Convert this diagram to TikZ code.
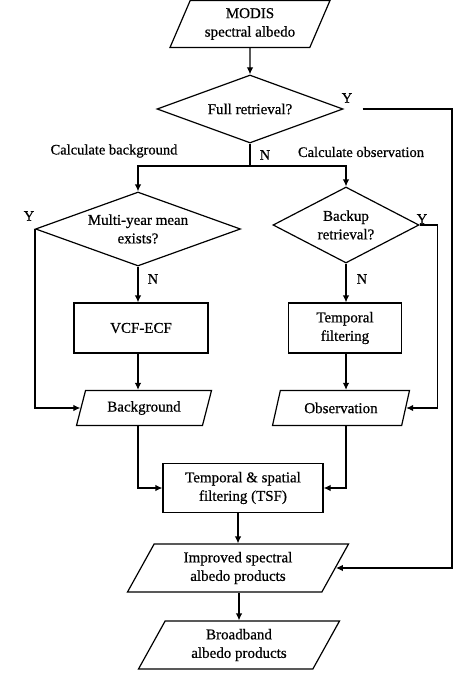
\documentclass[tikz,border=0pt]{standalone}
\usepackage{fontspec}
\setmainfont{Liberation Serif}
\newfontfamily\heavyfont{Liberation Serif}[FakeBold=0.6]
\usetikzlibrary{shapes.geometric,arrows.meta}
\tikzset{
	line/.style={line width=1.2pt},
	arrow/.style={line, -{Latex[length=7pt,width=6.5pt]}},
	process/.style={draw, line width=1.2pt, rectangle, align=center, inner sep=2pt},
	decision/.style={draw, line width=1.2pt, diamond, align=center, inner sep=0pt},
	data/.style={draw, line width=1.2pt, trapezium, trapezium stretches body, align=center, inner sep=1pt},
	lbl/.style={inner sep=0pt, font=\heavyfont\fontsize{14.5}{17}\selectfont}
}
\begin{document}
\begin{tikzpicture}[x=1pt,y=-1pt, font=\heavyfont\fontsize{15}{18.5}\selectfont]
	\useasboundingbox (0,0) rectangle (474,695);
	
	\node[data, trapezium left angle=59, trapezium right angle=121, minimum width=160pt, minimum height=47pt] (modis) at (250,24) {MODIS\\spectral albedo};
	\node[decision, aspect=2.7, minimum width=186pt, minimum height=68pt] (full) at (250,109) {Full retrieval?};
	\node[decision, aspect=2.8, minimum width=205pt, minimum height=74pt] (mym) at (138,229) {Multi-year mean\\exists?};
	\node[decision, aspect=1.9, minimum width=146pt, minimum height=76pt] (backup) at (346,225) {Backup\\retrieval?};
	\node[process, minimum width=134pt, minimum height=50pt] (vcf) at (141,328) {VCF-ECF};
	\node[process, minimum width=113pt, minimum height=50pt] (temporal) at (345,328) {Temporal\\filtering};
	\node[data, trapezium left angle=60, trapezium right angle=120, minimum width=135pt, minimum height=35pt] (bg) at (144,408) {Background};
	\node[data, trapezium left angle=58, trapezium right angle=122, minimum width=137pt, minimum height=35pt] (obs) at (341,408) {Observation};
	\node[process, minimum width=160pt, minimum height=49pt] (tsf) at (243,488) {Temporal \& spatial\\filtering (TSF)};
	\node[data, trapezium left angle=52, trapezium right angle=128, minimum width=221pt, minimum height=48pt] (improved) at (238,568) {Improved spectral\\albedo products};
	\node[data, trapezium left angle=52, trapezium right angle=128, minimum width=201pt, minimum height=48pt] (broad) at (239,645) {Broadband\\albedo products};
	
	% labels
	\node[lbl] (calcbg) at (114,151) {Calculate background};
	\node[lbl] (calcobs) at (361,152) {Calculate observation};
	\node[lbl] (yfull) at (347,98) {Y};
	\node[lbl] (nfull) at (265,155) {N};
	\node[lbl] (ymym) at (29,216) {Y};
	\node[lbl] (nmym) at (153,279) {N};
	\node[lbl] (ybackup) at (422,219) {Y};
	\node[lbl] (nbackup) at (362,279) {N};
	
	\coordinate (split) at (250,166);
	\coordinate (rail) at (452,0);
	
	\draw[arrow] (modis) -- (full);
	\draw[line] (full.south) -- (split);
	\draw[arrow] (split) -| (mym.north);
	\draw[arrow] (split) -| (backup.north);
	\draw[arrow] ([xshift=19pt]full.east) -| (rail |- improved.east) -- (improved.east);
	\draw[arrow] (mym.south) -- (mym.south |- vcf.north);
	\draw[arrow] (mym.south |- vcf.south) -- (mym.south |- bg.north);
	\draw[arrow] (mym.west) |- (bg.west);
	\draw[arrow] (backup.south) -- (backup.south |- temporal.north);
	\draw[arrow] (backup.south |- temporal.south) -- (backup.south |- obs.north);
	\draw[arrow] (backup.east) -- ++(18,0) |- (obs.east);
	\draw[arrow] (mym.south |- bg.south) |- (tsf.west);
	\draw[arrow] (backup.south |- obs.south) |- (tsf.east);
	\draw[arrow] (tsf.south -| improved.north) -- (improved.north);
	\draw[arrow] (improved.south -| broad.north) -- (broad.north);
\end{tikzpicture}
\end{document}
